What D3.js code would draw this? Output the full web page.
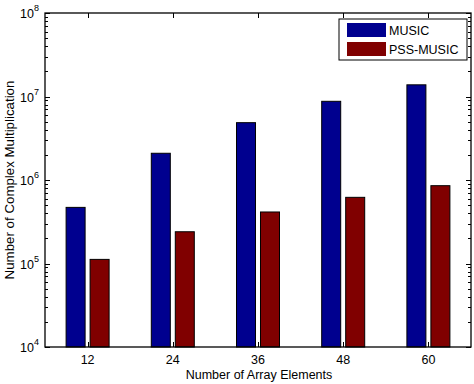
<!DOCTYPE html>
<html>
<head>
<meta charset="utf-8">
<script src="https://cdn.jsdelivr.net/npm/d3@7"></script>
<style>
    html, body { margin: 0; padding: 0; background: #fff; }
    svg { display: block; font-family: "Liberation Sans", Arial, sans-serif; }
    .bar { stroke: #000; stroke-width: 1; }
    .frame { fill: none; stroke: #000; stroke-width: 1.3; }
    .tick-line { stroke: #000; stroke-width: 1; }
    .label { font-size: 12.5px; fill: #000; }
    .y-title { font-size: 13.3px; }
</style>
</head>
<body>
<div id="chart"></div>
<script>
/*
 * Chart data.
 */
var elements = [12, 24, 36, 48, 60];
var seriesNames = ['MUSIC', 'PSS-MUSIC'];
var musicValues = [4.7e5, 2.09e6, 4.86e6, 8.76e6, 1.38e7];
var pssMusicValues = [1.12e5, 2.4e5, 4.14e5, 6.2e5, 8.55e5];
var yTickExponents = [4, 5, 6, 7, 8];
var seriesColors = ['#00008f', '#800000'];


/**
 * Log scale bar chart.
 * @public
 * @class
 */
function BarChart() {
    /**
     * Outer dimensions.
     * @private
     * @member {Object}
     */
    this._size = { width: 474, height: 384 };
    /**
     * Plot area.
     * @private
     * @member {Object}
     */
    this._plot = { left: 45, right: 471, top: 13, bottom: 347 };
    /**
     * X scale function.
     * @private
     * @member {Function}
     */
    this._xScale = d3.scaleLinear()
        .domain([6, 66])
        .range([this._plot.left, this._plot.right]);
    /**
     * Y scale function.
     * @private
     * @member {Function}
     */
    this._yScale = d3.scaleLog()
        .domain([1e4, 1e8])
        .range([this._plot.bottom, this._plot.top]);
    /**
     * Series offset inside of group.
     * @private
     * @member {Function}
     */
    this._offsetScale = d3.scaleBand()
        .domain(seriesNames)
        .range([-21.5, 21.5])
        .paddingInner(0.208);
}


/**
 * Render chart.
 * @public
 * @param {String} selection
 * @returns {BarChart}
 */
BarChart.prototype.renderTo = function(selection) {
    /*
     * Append SVG element.
     */
    this._svg = d3.select(selection).append('svg')
        .attr('width', this._size.width)
        .attr('height', this._size.height);

    this._drawBars();
    this._drawFrame();
    this._drawYTicks();
    this._drawXTicks();
    this._drawLabels();
    this._drawLegend();

    return this;
};


/**
 * Draw bars.
 * @private
 */
BarChart.prototype._drawBars = function() {

    var self = this;
    var series = [musicValues, pssMusicValues];

    series.forEach(function(values, s) {
        self._svg.append('g')
            .selectAll('rect')
            .data(values)
            .join('rect')
            .attr('class', 'bar')
            .attr('x', (d, i) => self._xScale(elements[i]) + self._offsetScale(seriesNames[s]))
            .attr('y', d => self._yScale(d))
            .attr('width', self._offsetScale.bandwidth())
            .attr('height', d => self._yScale.range()[0] - self._yScale(d))
            .attr('fill', seriesColors[s]);
    });
};


/**
 * Draw axes box.
 * @private
 */
BarChart.prototype._drawFrame = function() {

    var p = this._plot;

    this._svg.append('rect')
        .attr('class', 'frame')
        .attr('x', p.left)
        .attr('y', p.top)
        .attr('width', p.right - p.left)
        .attr('height', p.bottom - p.top);
};


/**
 * Draw log ticks on left and right sides, pointing inside.
 * @private
 */
BarChart.prototype._drawYTicks = function() {

    var self = this;
    var p = this._plot;
    var ticks = [];

    yTickExponents.forEach(function(e, i) {
        ticks.push({ value: Math.pow(10, e), major: true });
        if (i < yTickExponents.length - 1) {
            for (var m = 2; m < 10; m ++) {
                ticks.push({ value: m * Math.pow(10, e), major: false });
            }
        }
    });

    var g = this._svg.append('g');

    [[p.left, 1], [p.right, -1]].forEach(function(side) {
        g.selectAll(null)
            .data(ticks)
            .join('line')
            .attr('class', 'tick-line')
            .attr('x1', side[0])
            .attr('x2', d => side[0] + side[1] * (d.major ? 5 : 3))
            .attr('y1', d => Math.round(self._yScale(d.value)) + 0.5)
            .attr('y2', d => Math.round(self._yScale(d.value)) + 0.5);
    });

    /*
     * Tick labels: 10 with superscript exponent.
     */
    var labels = g.selectAll('text')
        .data(yTickExponents)
        .join('text')
        .attr('class', 'label')
        .attr('text-anchor', 'end')
        .attr('x', p.left - 6)
        .attr('y', d => self._yScale(Math.pow(10, d)) + 5);

    labels.append('tspan').text('10');
    labels.append('tspan')
        .attr('dy', -7)
        .style('font-size', '9px')
        .text(d => d);
};


/**
 * Draw category ticks on bottom and top.
 * @private
 */
BarChart.prototype._drawXTicks = function() {

    var self = this;
    var p = this._plot;
    var g = this._svg.append('g');

    [[p.bottom, -1], [p.top, 1]].forEach(function(side) {
        g.selectAll(null)
            .data(elements)
            .join('line')
            .attr('class', 'tick-line')
            .attr('x1', d => Math.round(self._xScale(d)) + 0.5)
            .attr('x2', d => Math.round(self._xScale(d)) + 0.5)
            .attr('y1', side[0])
            .attr('y2', side[0] + side[1] * 5);
    });

    g.selectAll('text')
        .data(elements)
        .join('text')
        .attr('class', 'label')
        .attr('text-anchor', 'middle')
        .attr('x', d => self._xScale(d))
        .attr('y', p.bottom + 17)
        .text(d => d);
};


/**
 * Draw axis titles.
 * @private
 */
BarChart.prototype._drawLabels = function() {

    var p = this._plot;

    this._svg.append('text')
        .attr('class', 'label')
        .attr('text-anchor', 'middle')
        .attr('x', (p.left + p.right) / 2 + 1)
        .attr('y', 379)
        .text('Number of Array Elements');

    this._svg.append('text')
        .attr('class', 'label y-title')
        .attr('text-anchor', 'middle')
        .attr('transform', 'translate(13.5,' + ((p.top + p.bottom) / 2) + ') rotate(-90)')
        .text('Number of Complex Multiplication');
};


/**
 * Draw legend.
 * @private
 */
BarChart.prototype._drawLegend = function() {

    var legend = this._svg.append('g')
        .attr('transform', 'translate(339,19)');

    legend.append('rect')
        .attr('width', 128)
        .attr('height', 41)
        .attr('fill', '#fff')
        .attr('stroke', '#000')
        .attr('stroke-width', 1);

    var items = legend.selectAll('g')
        .data(seriesNames)
        .join('g')
        .attr('transform', (d, i) => 'translate(8,' + (4 + i * 19) + ')');

    items.append('rect')
        .attr('width', 39)
        .attr('height', 14)
        .attr('fill', (d, i) => seriesColors[i]);

    items.append('text')
        .attr('class', 'label')
        .attr('x', 42)
        .attr('y', 12)
        .text(d => d);
};


BarChart.prototype.constructor = BarChart;

new BarChart().renderTo('#chart');
</script>
</body>
</html>
